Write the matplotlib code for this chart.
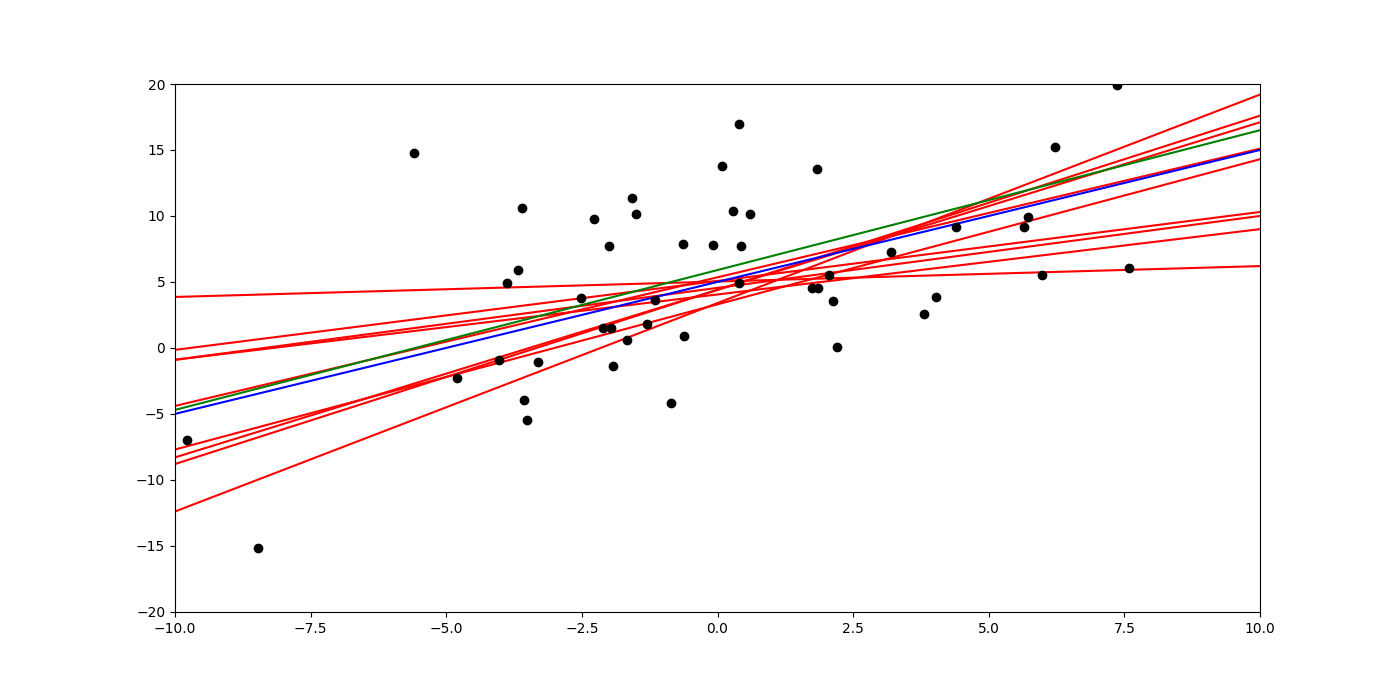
import matplotlib
matplotlib.use("Agg")
import matplotlib.pyplot as plt
import numpy as np

xs = [-9.78,-8.47,-5.59,-4.80,-4.03,-3.88,-3.68,-3.60,-3.57,-3.51,-3.31,-2.52,-2.28,-2.11,-2.00,-1.97,-1.92,-1.67,-1.58,-1.51,-1.30,-1.15,-0.86,-0.64,-0.62,-0.08,0.08,0.29,0.40,0.40,0.44,0.60,1.74,1.83,1.85,2.05,2.13,2.20,3.20,3.81,4.03,4.39,5.65,5.72,5.98,6.22,7.37,7.59]
ys = [-6.97,-15.15,14.77,-2.27,-0.91,4.92,5.91,10.6,-3.94,-5.45,-1.06,3.79,9.77,1.52,7.73,1.52,-1.36,0.61,11.36,10.15,1.82,3.64,-4.17,7.88,0.91,7.80,13.79,10.38,16.97,4.92,7.73,10.15,4.55,13.56,4.55,5.53,3.56,0.08,7.27,2.58,3.86,9.17,9.17,9.92,5.53,15.23,19.92,6.06]

line_x = [-10, 10]
red_left = [3.86, -0.15, -0.9, -0.9, -4.4, -7.7, -8.3, -8.8, -12.4]
red_right = [6.2, 10.3, 10.0, 9.0, 15.1, 14.3, 17.1, 17.6, 19.2]
blue_ends = [-5.0, 15.0]
green_ends = [-4.7, 16.5]

fig, ax = plt.subplots(figsize=(14, 7), dpi=100)
fig.subplots_adjust(bottom=0.126)
ax.scatter(xs, ys, color='black', zorder=3)
for l, r in zip(red_left, red_right):
    ax.plot(line_x, [l, r], color='red')
ax.plot(line_x, blue_ends, color='blue')
ax.plot(line_x, green_ends, color='green')
ax.set_xlim(-10, 10)
ax.set_ylim(-20, 20)
fig.savefig("out.png")
